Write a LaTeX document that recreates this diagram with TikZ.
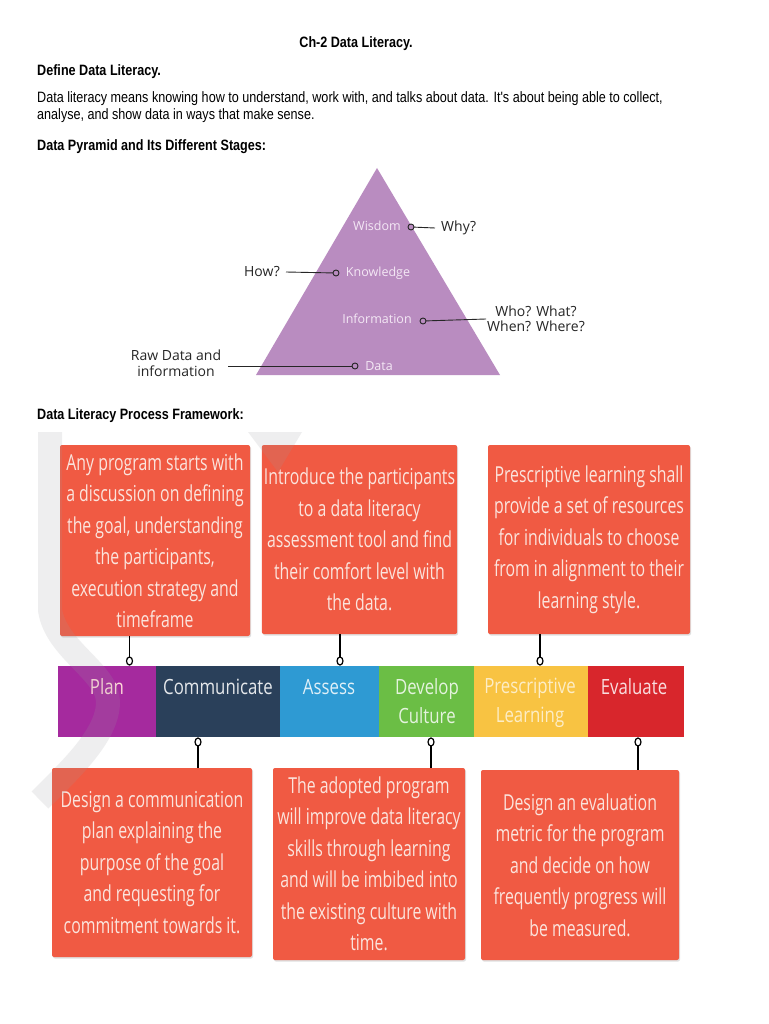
\documentclass[tikz,border=0pt]{standalone}
\usepackage{fontspec}
\newfontfamily\docfont[FakeStretch=0.84]{Liberation Sans}
\newfontfamily\boxfont[FakeStretch=0.72]{Open Sans}
\newfontfamily\barfont[FakeStretch=0.80]{Open Sans}
\newfontfamily\pyrfont{Open Sans}
\usetikzlibrary{shadows}
\definecolor{boxred}{HTML}{F05A43}
\definecolor{boxtxt}{HTML}{FBE4DD}
\definecolor{pyr}{HTML}{B98CC0}
\definecolor{pyrtxt}{HTML}{F4E8F5}
\definecolor{cplan}{HTML}{A52A9E}
\definecolor{ccomm}{HTML}{2A405A}
\definecolor{cass}{HTML}{2E9AD3}
\definecolor{cdev}{HTML}{6BBE45}
\definecolor{cpres}{HTML}{F8C342}
\definecolor{ceval}{HTML}{D8262C}
\definecolor{wm}{HTML}{9A9AA0}
\begin{document}
\begin{tikzpicture}[x=1pt,y=-1pt,
  doc/.style={inner sep=1pt, font=\docfont\fontsize{15}{18}\selectfont},
  dochead/.style={doc, font=\docfont\bfseries\fontsize{15}{18}\selectfont},
  pyrlab/.style={inner sep=1pt, text=pyrtxt, font=\pyrfont\fontsize{12.5}{14}\selectfont},
  pyrout/.style={inner sep=3pt, text=black!85, font=\pyrfont\fontsize{14}{15.5}\selectfont, align=center},
  pyrline/.style={draw=black!85, line width=0.9pt},
  pyrdot/.style={draw=black!85, fill=pyr, line width=0.9pt},
  infobox/.style={fill=boxred, rounded corners=2pt, inner sep=2pt, align=center,
    text=boxtxt, font=\boxfont\fontsize{22}{31.5}\selectfont,
    drop shadow={opacity=0.25, shadow xshift=1pt, shadow yshift=-1.5pt}},
  seg/.style={anchor=north west, inner sep=0pt, minimum height=71pt, outer sep=0pt},
  barlab/.style={inner sep=0pt, align=center, font=\barfont\fontsize{21}{29}\selectfont},
  conn/.style={draw=black, line width=1.4pt},
  ring/.style={draw=black, fill=white, line width=1.2pt},
  wmark/.style={draw=wm, opacity=0.16, line width=24pt}
]
\useasboundingbox[fill=white] (0,0) rectangle (768,1024);

% ---- header text ----
\node[dochead] (title) at (356,44) {Ch-2 Data Literacy.};
\node[dochead, anchor=west] (def) at (36,72) {Define Data Literacy.};
\node[doc, anchor=west] (par1) at (36,99) {Data literacy means knowing how to understand, work with, and talks about data. It's about being able to collect,};
\node[doc, anchor=west] (par2) at (36,116) {analyse, and show data in ways that make sense.};
\node[dochead, anchor=west] (pyrhead) at (36,147) {Data Pyramid and Its Different Stages:};

% ---- pyramid ----
\coordinate (apex) at (377,168);
\coordinate (bl) at (256,375);
\coordinate (br) at (500,375);
\fill[pyr] (apex) -- (br) -- (bl) -- cycle;

\node[pyrlab] (wis) at (377,226) {Wisdom};
\node[pyrlab] (kno) at (378,273) {Knowledge};
\node[pyrlab] (inf) at (377,319) {Information};
\node[pyrlab] (dat) at (379,366) {Data};

\coordinate (cw) at (411,227);
\coordinate (ck) at (336,273);
\coordinate (ci) at (423,321);
\coordinate (cd) at (355,366);

\node[pyrout, anchor=west] (why) at (438,228) {Why?};
\node[pyrout, anchor=east] (how) at (283,272) {How?};
\node[pyrout, anchor=west] (who) at (484,319) {Who? What?\\When? Where?};
\node[pyrout, font=\pyrfont\fontsize{14}{16}\selectfont] (raw) at (176,363) {Raw Data and\\information};

\draw[pyrline] (cw) -- ([xshift=-3pt]why.west);
\draw[pyrline] ([xshift=3pt]how.east) -- (ck);
\draw[pyrline] (ci) -- ([xshift=2pt]who.west);
\draw[pyrline] (raw.east |- cd) ++(4,0) -- (cd);
\foreach \c in {cw,ck,ci,cd} \draw[pyrdot] (\c) circle (3);

% ---- framework ----
\node[dochead, anchor=west] (fwhead) at (36,416) {Data Literacy Process Framework:};

% bar
\node[seg, fill=cplan, minimum width=98pt] (plan) at (58,666) {};
\node[seg, fill=ccomm, minimum width=124pt] (comm) at (156,666) {};
\node[seg, fill=cass, minimum width=99pt] (ass) at (280,666) {};
\node[seg, fill=cdev, minimum width=95pt] (dev) at (379,666) {};
\node[seg, fill=cpres, minimum width=114pt] (pres) at (474,666) {};
\node[seg, fill=ceval, minimum width=96pt] (eval) at (588,666) {};

\node[barlab, text=pink!60!white] (lplan) at (107,687) {Plan};
\node[barlab, text=ccomm!12!white] (lcomm) at (218,687) {Communicate};
\node[barlab, text=cass!15!white] (lass) at (329,687) {Assess};
\node[barlab, text=cdev!18!white] (ldev) at (427,701) {Develop\\Culture};
\node[barlab, text=cpres!30!white] (lpres) at (530,703) {Prescriptive\\Learning};
\node[barlab, text=ceval!15!white] (leval) at (634,687) {Evaluate};

% boxes
\node[infobox, minimum width=190pt, minimum height=191pt] (b1) at (155,540.5)
  {Any program starts with\\a discussion on defining\\the goal, understanding\\the participants,\\execution strategy and\\timeframe};
\node[infobox, minimum width=173pt, minimum height=189pt] (b2) at (359.5,539.5)
  {Introduce the participants\\to a data literacy\\assessment tool and find\\their comfort level with\\the data.};
\node[infobox, minimum width=202pt, minimum height=189pt] (b3) at (589,539.5)
  {Prescriptive learning shall\\provide a set of resources\\for individuals to choose\\from in alignment to their\\learning style.};
\node[infobox, minimum width=200pt, minimum height=189pt] (b4) at (152,862.5)
  {Design a communication\\plan explaining the\\purpose of the goal\\and requesting for\\commitment towards it.};
\node[infobox, minimum width=192pt, minimum height=192pt] (b5) at (369,864)
  {The adopted program\\will improve data literacy\\skills through learning\\and will be imbibed into\\the existing culture with\\time.};
\node[infobox, minimum width=198pt, minimum height=190pt] (b6) at (580,865)
  {Design an evaluation\\metric for the program\\and decide on how\\frequently progress will\\be measured.};

% watermark overlay (translucent grey swoosh)
\draw[wmark] (50,432) -- (50,610) .. controls (56,650) and (108,672) .. (108,702)
  .. controls (108,735) and (70,770) .. (40,800);
\fill[wm, opacity=0.16] (248,432) -- (302,432) -- (278,472) -- cycle;

% connectors
\coordinate (t1) at (129.5,661);
\coordinate (t2) at (340,661);
\coordinate (t3) at (540,661);
\coordinate (u1) at (198,742);
\coordinate (u2) at (431,742);
\coordinate (u3) at (638,742);
\draw[conn] (b1.south -| t1) -- (t1);
\draw[conn] (b2.south -| t2) -- (t2);
\draw[conn] (b3.south -| t3) -- (t3);
\draw[conn] (u1) -- (b4.north -| u1);
\draw[conn] (u2) -- (b5.north -| u2);
\draw[conn] (u3) -- (b6.north -| u3);
\foreach \c in {t1,t2,t3,u1,u2,u3} \draw[ring] (\c) ellipse[x radius=3pt, y radius=4pt];
\end{tikzpicture}
\end{document}
